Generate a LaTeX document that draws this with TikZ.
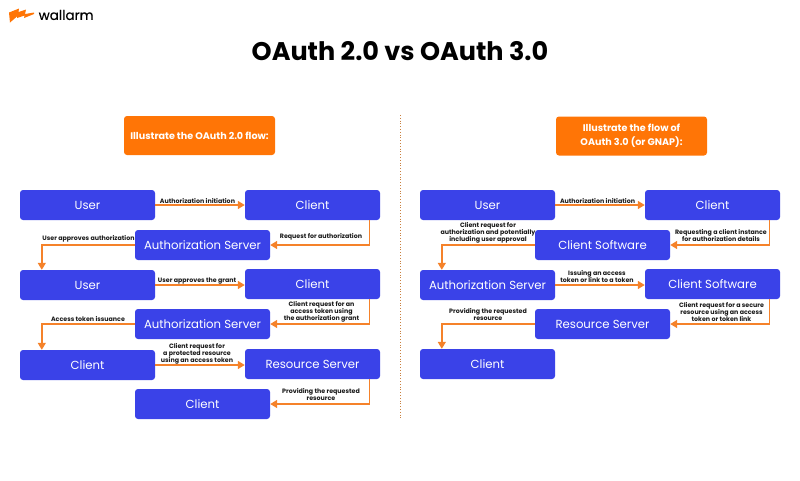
\documentclass[tikz,border=0pt]{standalone}
\usepackage{fontspec}
\setmainfont{Poppins}
\newfontfamily\brandfont[FakeBold=0.4]{Poppins}
\usepackage{xcolor}
\usetikzlibrary{arrows.meta}
\usetikzlibrary{positioning}
\definecolor{boxblue}{HTML}{3A42E8}
\definecolor{boxorange}{HTML}{FF7506}
\definecolor{linkorange}{HTML}{F5822A}
\definecolor{sepbrown}{HTML}{C9803F}
\tikzstyle{flowbox} = [rectangle, rounded corners=3pt, minimum width=135pt, minimum height=30pt, inner sep=0pt, fill=boxblue, text=white, font=\fontsize{11.7}{13}\selectfont]
\tikzstyle{headbox} = [rectangle, rounded corners=3pt, minimum width=151pt, minimum height=39pt, inner sep=0pt, fill=boxorange, text=white, align=center, font=\fontsize{9.6}{14}\selectfont\bfseries]
\tikzstyle{lbl} = [inner sep=0pt, yshift=-0.8pt, align=center, text=black!90, font=\fontsize{6.3}{7}\selectfont\bfseries]
\tikzstyle{arrow} = [line width=1.5pt, linkorange, ->, >={Triangle[length=7pt,width=8pt]}]
\begin{document}
\begin{tikzpicture}[x=1pt,y=-1pt]
    \useasboundingbox (0,0) rectangle (800,480);
    % logo and title
    \fill[boxorange] (9,12.5) -- (19,8.5) -- (18.5,12) -- (26,9.5) -- (25,14) -- (34,12.5) -- (34,14) -- (24,18) -- (24.5,15.5) -- (17,18) -- (17,16.5) -- (10,22.5) -- cycle;
    \node[inner sep=0pt, anchor=west, font=\fontsize{13.5}{15}\brandfont] (brand) at (38.5,15) {wallarm};
    \node[inner sep=0pt, font=\fontsize{25.5}{28}\selectfont\bfseries] (title) at (400,51) {OAuth 2.0 vs OAuth 3.0};
    \draw[sepbrown, line width=0.8pt, dotted] (400.5,115) -- (400.5,418);
    \node[headbox] (headold) at (199.5,135.5) {Illustrate the OAuth 2.0 flow:};
    \node[headbox] (headnew) at (631.5,136) {Illustrate the flow of\\OAuth 3.0 (or GNAP):};
    % OAuth 2.0 boxes
    \node[flowbox] (userA) at (87.5,205) {User};
    \node[flowbox] (clientA) at (312.5,205) {Client};
    \node[flowbox] (authA) at (202.5,245) {Authorization Server};
    \node[flowbox] (userB) at (87.5,285) {User};
    \node[flowbox] (clientB) at (312.5,284) {Client};
    \node[flowbox] (authB) at (202.5,324) {Authorization Server};
    \node[flowbox] (clientC) at (87.5,365) {Client};
    \node[flowbox] (resA) at (312.5,364) {Resource Server};
    \node[flowbox] (clientD) at (202.5,404) {Client};
    % OAuth 3.0 boxes
    \node[flowbox] (userN) at (487.5,205) {User};
    \node[flowbox] (clientN) at (712.5,205) {Client};
    \node[flowbox] (softN) at (602.5,245) {Client Software};
    \node[flowbox] (authN) at (487.5,285) {Authorization Server};
    \node[flowbox] (softM) at (712.5,284) {Client Software};
    \node[flowbox] (resN) at (602.5,324) {Resource Server};
    \node[flowbox] (clientM) at (487.5,364) {Client};
    % OAuth 2.0 links
    \draw[arrow] (userA.east) -- (clientA.west);
    \draw[arrow] ([xshift=-10.5pt]clientA.south east) |- (authA.east);
    \draw[arrow] (authA.west) -| ([xshift=22pt]userB.north west);
    \draw[arrow] (userB.east) -- (clientB.west |- userB.east);
    \draw[arrow] ([xshift=-10.5pt]clientB.south east) |- (authB.east);
    \draw[arrow] (authB.west) -| ([xshift=22pt]clientC.north west);
    \draw[arrow] (clientC.east) -- (resA.west |- clientC.east);
    \draw[arrow] ([xshift=-10.5pt]resA.south east) |- (clientD.east);
    % OAuth 3.0 links
    \draw[arrow] (userN.east) -- (clientN.west);
    \draw[arrow] ([xshift=-10.5pt]clientN.south east) |- (softN.east);
    \draw[arrow] (softN.west) -| ([xshift=22pt]authN.north west);
    \draw[arrow] (authN.east) -- (softM.west |- authN.east);
    \draw[arrow] ([xshift=-10.5pt]softM.south east) |- (resN.east);
    \draw[arrow] (resN.west) -| ([xshift=22pt]clientM.north west);
    % OAuth 2.0 labels
    \node[lbl] (tA) at (197.5,200) {Authorization initiation};
    \node[lbl] (tB) at (321,236) {Request for authorization};
    \node[lbl] (tC) at (88.5,238) {User approves authorization};
    \node[lbl] (tD) at (197,280) {User approves the grant};
    \node[lbl] (tE) at (321.5,311) {Client request for an\\access token using\\the authorization grant};
    \node[lbl] (tF) at (88,318) {Access token issuance};
    \node[lbl] (tG) at (197,353) {Client request for\\a protected resource\\using an access token};
    \node[lbl] (tH) at (321,394) {Providing the requested\\resource};
    % OAuth 3.0 labels
    \node[lbl] (tN) at (597.5,200) {Authorization initiation};
    \node[lbl] (tO) at (721,235) {Requesting a client instance\\for authorization details};
    \node[lbl] (tP) at (488,232) {Client request for\\authorization and potentially\\including user approval};
    \node[lbl] (tQ) at (597,276) {Issuing an access\\token or link to a token};
    \node[lbl] (tR) at (721.5,311) {Client request for a secure\\resource using an access\\token or token link};
    \node[lbl] (tS) at (488,314) {Providing the requested\\resource};
\end{tikzpicture}
\end{document}
